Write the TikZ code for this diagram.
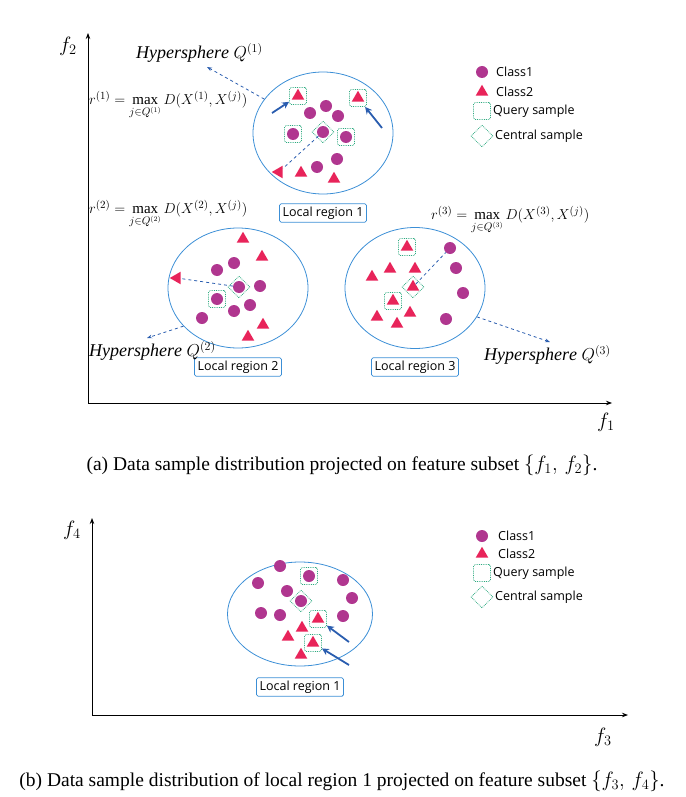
\documentclass[tikz,border=0pt]{standalone}
\usepackage{amsmath}
\usepackage{fontspec}
\setmainfont{Liberation Serif}
\newfontfamily\lab{Open Sans}
\usetikzlibrary{shapes.geometric,arrows.meta}
\definecolor{cA}{HTML}{B0368F}
\definecolor{cB}{HTML}{E8245A}
\definecolor{qg}{HTML}{2EAA80}
\definecolor{eb}{HTML}{3C8FD6}
\definecolor{ab}{HTML}{2A5DAF}
\begin{document}
\begin{tikzpicture}[x=1pt,y=-1pt,
 c1/.style={circle,fill=cA,inner sep=0,minimum size=12pt},
 c2/.style={regular polygon,regular polygon sides=3,fill=cB,inner sep=0,minimum size=14.5pt},
 qs/.style={rectangle,draw=qg,densely dotted,thick,rounded corners=1.5pt,minimum size=17pt,inner sep=0},
 cs/.style={diamond,draw=qg,densely dotted,thick,minimum size=22pt,inner sep=0},
 reg/.style={ellipse,draw=eb,thick,inner sep=0},
 box/.style={draw=eb,thick,rounded corners=1.5pt,font=\lab\fontsize{12.5}{14}\selectfont,inner sep=3pt},
 dsh/.style={ab,dashed,thick,-{Stealth[length=5pt]}},
 sol/.style={ab,line width=1.8pt,-{Stealth[length=7pt,width=7pt]}},
 ax/.style={-{Stealth[length=6pt]},thick},
 lg/.style={font=\lab\fontsize{12.5}{14}\selectfont,anchor=west,inner sep=1pt},
 mt/.style={font=\fontsize{15}{17}\selectfont,inner sep=0},
 hs/.style={font=\fontsize{18}{20}\selectfont,anchor=west,inner sep=0},
 fl/.style={font=\fontsize{22}{24}\selectfont},
 captxt/.style={font=\fontsize{19.5}{22}\selectfont}]
\useasboundingbox (0,0) rectangle (685,797);
% ---------- (a) axes
\coordinate (o1) at (88,403); \coordinate (ya) at (88,33); \coordinate (xa) at (612,403);
\draw[ax] (o1) -- (ya); \draw[ax] (o1) -- (xa);
\node[fl] (f2) at (68,46) {$f_2$};
\node[fl] (f1) at (606,422) {$f_1$};
% region 1
\node[reg,minimum width=140pt,minimum height=122pt] (e1) at (323,133) {};
\node[box] (b1) at (323,213) {Local region 1};
\node[qs] (q11) at (298,96) {}; \node[c2] (t11) at (298,96) {};
\node[qs] (q12) at (358,98) {}; \node[c2] (t12) at (358,98) {};
\node[c1] (a11) at (310,113) {}; \node[c1] (a12) at (326,106) {}; \node[c1] (a13) at (338,116) {};
\node[qs] (q13) at (293,134) {}; \node[c1] (a14) at (293,134) {};
\node[cs] (d1) at (323,132) {}; \node[c1] (a15) at (323,132) {};
\node[qs] (q14) at (346,137) {}; \node[c1] (a16) at (346,137) {};
\node[c1] (a17) at (317,167) {}; \node[c1] (a18) at (337,159) {};
\node[c2] (t13) at (301,173) {}; \node[c2] (t14) at (334,179) {};
\node[c2,rotate=-30] (t15) at (279,172) {};
\draw[ab,dashed,thick] (a15) -- (t15);
\coordinate (s1) at (272,113); \coordinate (s2) at (382,128);
\draw[sol] (s1) -- (q11); \draw[sol] (s2) -- (q12);
\coordinate (h1) at (207,67);
\draw[dsh] (e1.150) -- (h1);
\node[hs] (hq1) at (136,53) {$\mathit{Hypersphere}\ Q^{(1)}$};
\node[mt,anchor=west] (r1) at (89,105) {$r^{(1)}=\max\limits_{j\in Q^{(1)}} D(X^{(1)},X^{(j)})$};
% legend a
\node[c1] (l1) at (482,72) {}; \node[lg] (l1t) at (495,72) {Class1};
\node[c2] (l2) at (482,92) {}; \node[lg] (l2t) at (495,92) {Class2};
\node[qs] (l3) at (482,111) {}; \node[lg] (l3t) at (492,111) {Query sample};
\node[cs] (l4) at (482,136) {}; \node[lg] (l4t) at (494,136) {Central sample};
% region 2
\node[reg,minimum width=140pt,minimum height=120pt] (e2) at (238,288) {};
\node[box] (b2) at (238,367) {Local region 2};
\node[c2] (t21) at (243,239) {}; \node[c2] (t22) at (262,257) {};
\node[c2,rotate=-30] (t23) at (177,278) {};
\node[c1] (a21) at (217,270) {}; \node[c1] (a22) at (234,263) {};
\node[cs] (d2) at (239,287) {}; \node[c1] (a23) at (239,287) {};
\node[c1] (a24) at (260,286) {};
\node[qs] (q21) at (217,299) {}; \node[c1] (a25) at (217,299) {};
\node[c1] (a26) at (234,311) {}; \node[c1] (a27) at (250,305) {}; \node[c1] (a28) at (202,318) {};
\node[c2] (t24) at (263,325) {}; \node[c2] (t25) at (248,337) {};
\draw[ab,dashed,thick] (a23) -- (t23);
\coordinate (h2) at (147,338);
\draw[dsh] (e2.215) -- (h2);
\node[hs] (hq2) at (89,351) {$\mathit{Hypersphere}\ Q^{(2)}$};
\node[mt,anchor=west] (r2) at (89,214) {$r^{(2)}=\max\limits_{j\in Q^{(2)}} D(X^{(2)},X^{(j)})$};
% region 3
\node[reg,minimum width=140pt,minimum height=121pt] (e3) at (415,288) {};
\node[box] (b3) at (415,367) {Local region 3};
\node[qs] (q31) at (407,247) {}; \node[c2] (t31) at (407,247) {};
\node[c1] (a31) at (450,248) {};
\node[c2] (t32) at (372,277) {}; \node[c2] (t33) at (390,269) {}; \node[c2] (t34) at (415,269) {};
\node[cs] (d3) at (413,287) {}; \node[c2] (t35) at (413,287) {};
\node[c1] (a32) at (456,268) {}; \node[c1] (a33) at (463,293) {};
\node[qs] (q32) at (393,301) {}; \node[c2] (t36) at (393,301) {};
\node[c2] (t37) at (410,313) {}; \node[c2] (t38) at (377,317) {}; \node[c2] (t39) at (397,324) {};
\node[c1] (a34) at (446,319) {};
\draw[ab,dashed,thick] (t35) -- (a31);
\coordinate (h3) at (550,342);
\draw[dsh] (e3.-25) -- (h3);
\node[hs] (hq3) at (484,355) {$\mathit{Hypersphere}\ Q^{(3)}$};
\node[mt,anchor=west] (r3) at (431,220) {$r^{(3)}=\max\limits_{j\in Q^{(3)}} D(X^{(3)},X^{(j)})$};
\node[captxt] (capa) at (342,465) {(a) Data sample distribution projected on feature subset $\{f_1,\,f_2\}$.};
% ---------- (b)
\coordinate (o2) at (92,715); \coordinate (yb) at (92,518); \coordinate (xb) at (628,715);
\draw[ax] (o2) -- (yb); \draw[ax] (o2) -- (xb);
\node[fl] (f4) at (72,530) {$f_4$};
\node[fl] (f3) at (603,737) {$f_3$};
\node[reg,minimum width=145pt,minimum height=104pt] (e4) at (300,614) {};
\node[box] (b4) at (300,687) {Local region 1};
\node[c1] (a41) at (280,566) {};
\node[qs] (q41) at (309,576) {}; \node[c1] (a42) at (309,576) {};
\node[c1] (a43) at (258,583) {}; \node[c1] (a44) at (343,580) {}; \node[c1] (a45) at (287,591) {};
\node[c1] (a46) at (352,598) {};
\node[cs] (d4) at (301,601) {}; \node[c1] (a47) at (301,601) {};
\node[c1] (a48) at (261,613) {}; \node[c1] (a49) at (280,615) {}; \node[c1] (a410) at (343,616) {};
\node[qs] (q42) at (318,619) {}; \node[c2] (t41) at (318,619) {};
\node[c2] (t42) at (302,628) {}; \node[c2] (t43) at (288,637) {};
\node[qs] (q43) at (313,643) {}; \node[c2] (t44) at (313,643) {};
\node[c2] (t45) at (301,655) {};
\coordinate (s3) at (349,642); \coordinate (s4) at (349,665);
\draw[sol] (s3) -- (q42); \draw[sol] (s4) -- (q43);
\node[c1] (m1) at (482,536) {}; \node[lg] (m1t) at (497,536) {Class1};
\node[c2] (m2) at (482,554) {}; \node[lg] (m2t) at (497,554) {Class2};
\node[qs] (m3) at (482,573) {}; \node[lg] (m3t) at (492,573) {Query sample};
\node[cs] (m4) at (482,597) {}; \node[lg] (m4t) at (494,597) {Central sample};
\node[captxt] (capb) at (342,781) {(b) Data sample distribution of local region 1 projected on feature subset $\{f_3,\,f_4\}$.};
\end{tikzpicture}
\end{document}
